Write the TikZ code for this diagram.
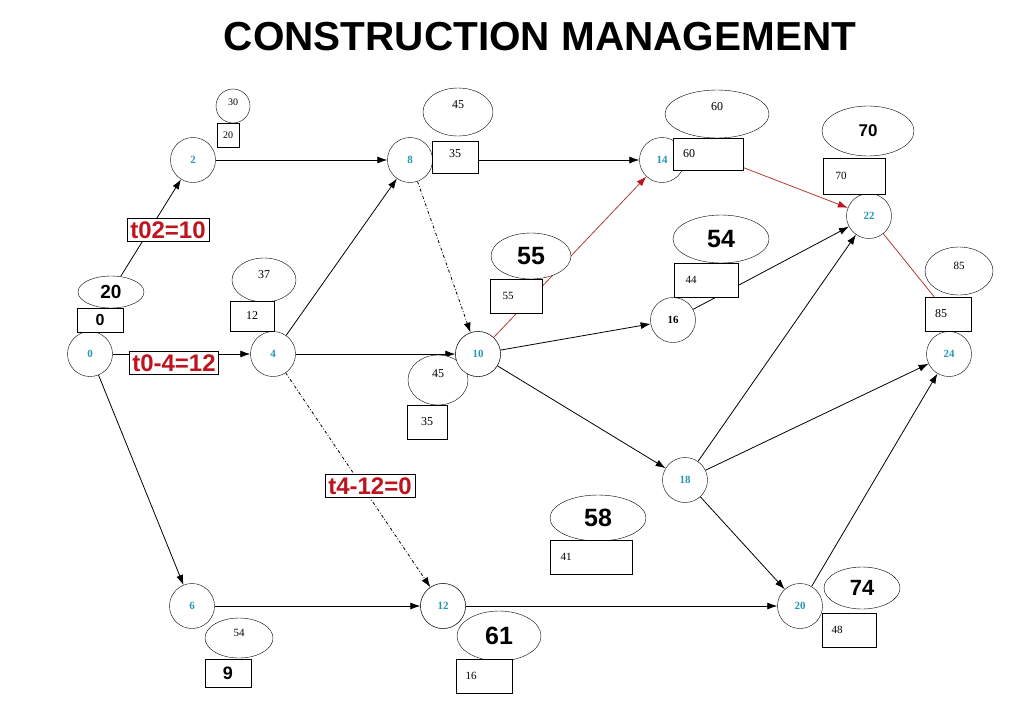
\documentclass[tikz,border=0pt]{standalone}
\usepackage{fontspec}
\setmainfont{Liberation Serif}
\newfontfamily\ars{Liberation Sans}
\usetikzlibrary{arrows.meta,shapes.geometric}
\pgfdeclarelayer{bg}
\pgfdeclarelayer{paper}
\pgfsetlayers{paper,bg,main}
\definecolor{teal2}{RGB}{40,150,175}
\definecolor{rd}{RGB}{190,20,30}
\definecolor{rl}{RGB}{180,60,50}
\begin{document}
\begin{tikzpicture}[x=1pt,y=-1pt,
  ev/.style={circle,draw,fill=white,minimum size=45pt,inner sep=0pt,font=\fontsize{11}{11}\selectfont\bfseries,text=teal2},
  ov/.style={ellipse,draw,fill=white,inner sep=0pt,font=\fontsize{12}{12}\selectfont},
  bx/.style={draw,fill=white,inner sep=0pt,font=\fontsize{12}{12}\selectfont},
  big/.style={font=\ars\bfseries\fontsize{25}{25}\selectfont},
  lab/.style={draw,fill=white,inner sep=3pt,text=rd,font=\ars\bfseries\fontsize{24}{24}\selectfont},
  ar/.style={-{Latex[length=10pt,width=7pt]},line width=0.8pt},
  rar/.style={line width=0.8pt,draw=rl,-{Latex[length=10pt,width=7pt,color=rd]}},
  dd/.style={ar,dash dot}]
\useasboundingbox (0,0) rectangle (1024,712);
\begin{pgfonlayer}{paper}
\fill[white] (0,0) rectangle (1024,712);
\end{pgfonlayer}
\node[font=\ars\bfseries\fontsize{40.5}{40}\selectfont] (title) at (540,37) {CONSTRUCTION MANAGEMENT};
% events
\node[ev] (n0) at (90,354) {0};
\node[ev] (n2) at (193,160) {2};
\node[ev] (n4) at (273,354) {4};
\node[ev] (n6) at (192,606) {6};
\node[ev] (n8) at (410,160) {8};
\node[ev] (n10) at (478,354) {10};
\node[ev] (n12) at (443,606) {12};
\node[ev] (n14) at (662,160) {14};
\node[ev,text=black] (n16) at (673,320) {16};
\node[ev] (n18) at (685,480) {18};
\node[ev] (n20) at (800,606) {20};
\node[ev] (n22) at (869,216) {22};
\node[ev] (n24) at (949,354) {24};
% ovals & boxes
\node[ov,minimum width=66pt,minimum height=32pt,font=\ars\bfseries\fontsize{19}{19}\selectfont] (o0) at (111,292) {20};
\node[bx,minimum width=46pt,minimum height=24pt,font=\ars\bfseries\fontsize{16}{16}\selectfont] (b0) at (100,320) {0};
\node[ov,minimum width=34pt,minimum height=34pt,font=\fontsize{10}{10}\selectfont] (o2) at (233,106) {\raisebox{8pt}{30}};
\node[bx,minimum width=22pt,minimum height=24pt,font=\fontsize{10}{10}\selectfont] (b2) at (228,135) {20};
\node[ov,minimum width=64pt,minimum height=44pt] (o4) at (264,280) {\raisebox{10pt}{37}};
\node[bx,minimum width=44pt,minimum height=30pt] (b4) at (252,316) {12};
\node[ov,minimum width=70pt,minimum height=48pt] (o8) at (458,112) {\raisebox{14pt}{45}};
\node[bx,minimum width=46pt,minimum height=32pt] (b8) at (455,157) {\raisebox{6pt}{35}};
\node[ov,minimum width=80pt,minimum height=46pt,big] (o55) at (531,256) {55};
\node[bx,minimum width=52pt,minimum height=34pt,font=\fontsize{11}{11}\selectfont] (b55) at (516,296) {\hspace*{-16pt}55};
\node[ov,minimum width=104pt,minimum height=48pt] (o14) at (717,114) {\raisebox{14pt}{60}};
\node[bx,minimum width=70pt,minimum height=32pt] (b14) at (708,154) {\hspace*{-38pt}60};
\node[ov,minimum width=96pt,minimum height=48pt,big] (o16) at (721,239) {54};
\node[bx,minimum width=64pt,minimum height=34pt,font=\fontsize{11}{11}\selectfont] (b16) at (706,280) {\hspace*{-30pt}44};
\node[ov,minimum width=92pt,minimum height=50pt,font=\ars\bfseries\fontsize{17}{17}\selectfont] (o22) at (868,131) {70};
\node[bx,minimum width=62pt,minimum height=36pt,font=\fontsize{11}{11}\selectfont] (b22) at (854,176) {\hspace*{-26pt}70};
\node[ov,minimum width=68pt,minimum height=48pt,font=\fontsize{11}{11}\selectfont] (o24) at (959,271) {\raisebox{10pt}{85}};
\node[bx,minimum width=46pt,minimum height=34pt] (b24) at (948,314) {\hspace*{-14pt}85};
\node[ov,minimum width=60pt,minimum height=50pt] (o10) at (438,380) {\raisebox{12pt}{45}};
\node[bx,minimum width=40pt,minimum height=34pt] (b10) at (427,422) {35};
\node[ov,minimum width=96pt,minimum height=46pt,big] (o18) at (598,518) {58};
\node[bx,minimum width=82pt,minimum height=34pt,font=\fontsize{11}{11}\selectfont] (b18) at (591,557) {\hspace*{-50pt}41};
\node[ov,minimum width=76pt,minimum height=42pt,font=\ars\bfseries\fontsize{22}{22}\selectfont] (o20) at (862,588) {74};
\node[bx,minimum width=54pt,minimum height=34pt,font=\fontsize{11}{11}\selectfont] (b20) at (849,630) {\hspace*{-24pt}48};
\node[ov,minimum width=68pt,minimum height=40pt,font=\fontsize{11}{11}\selectfont] (o6) at (239,638) {\raisebox{10pt}{54}};
\node[bx,minimum width=46pt,minimum height=28pt,font=\ars\bfseries\fontsize{18}{18}\selectfont] (b6) at (228,673) {9};
\node[ov,minimum width=84pt,minimum height=50pt,big] (o12) at (499,636) {61};
\node[bx,minimum width=56pt,minimum height=34pt,font=\fontsize{11}{11}\selectfont] (b12) at (484,676) {\hspace*{-26pt}16};
\node[ev] at (n10) {10};
\node[ev] at (n12) {12};
% edges
\begin{pgfonlayer}{bg}
\draw[ar] (o0) -- (n2);
\draw[ar] (n0) -- (n4);
\draw[ar] (n0) -- (n6);
\draw[ar] (n2) -- (n8);
\draw[ar] (n4) -- (n8);
\draw[ar] (n4) -- (n10);
\draw[dd] (n4) -- (n12);
\draw[dd] (n8) -- (n10);
\draw[ar] (b8.east |- n14) -- (n14);
\draw[rar] (n10) -- (n14);
\draw[ar] (n10) -- (n16);
\draw[ar] (n10) -- (n18);
\draw[ar] (n16) -- (n22);
\draw[rar] (b14) -- (n22);
\draw[ar] (n18) -- (n22);
\draw[ar] (n18) -- (n24);
\draw[ar] (n18) -- (n20);
\draw[ar] (n6) -- (n12);
\draw[ar] (n12) -- (n20);
\draw[ar] (n20) -- (n24);
\draw[line width=0.8pt,draw=rl] (n22) -- (b24);
\end{pgfonlayer}
% labels
\node[lab] (l1) at (168,230) {t02=10};
\node[lab] (l2) at (174,363) {t0-4=12};
\node[lab] (l3) at (370,486) {t4-12=0};
\end{tikzpicture}
\end{document}
